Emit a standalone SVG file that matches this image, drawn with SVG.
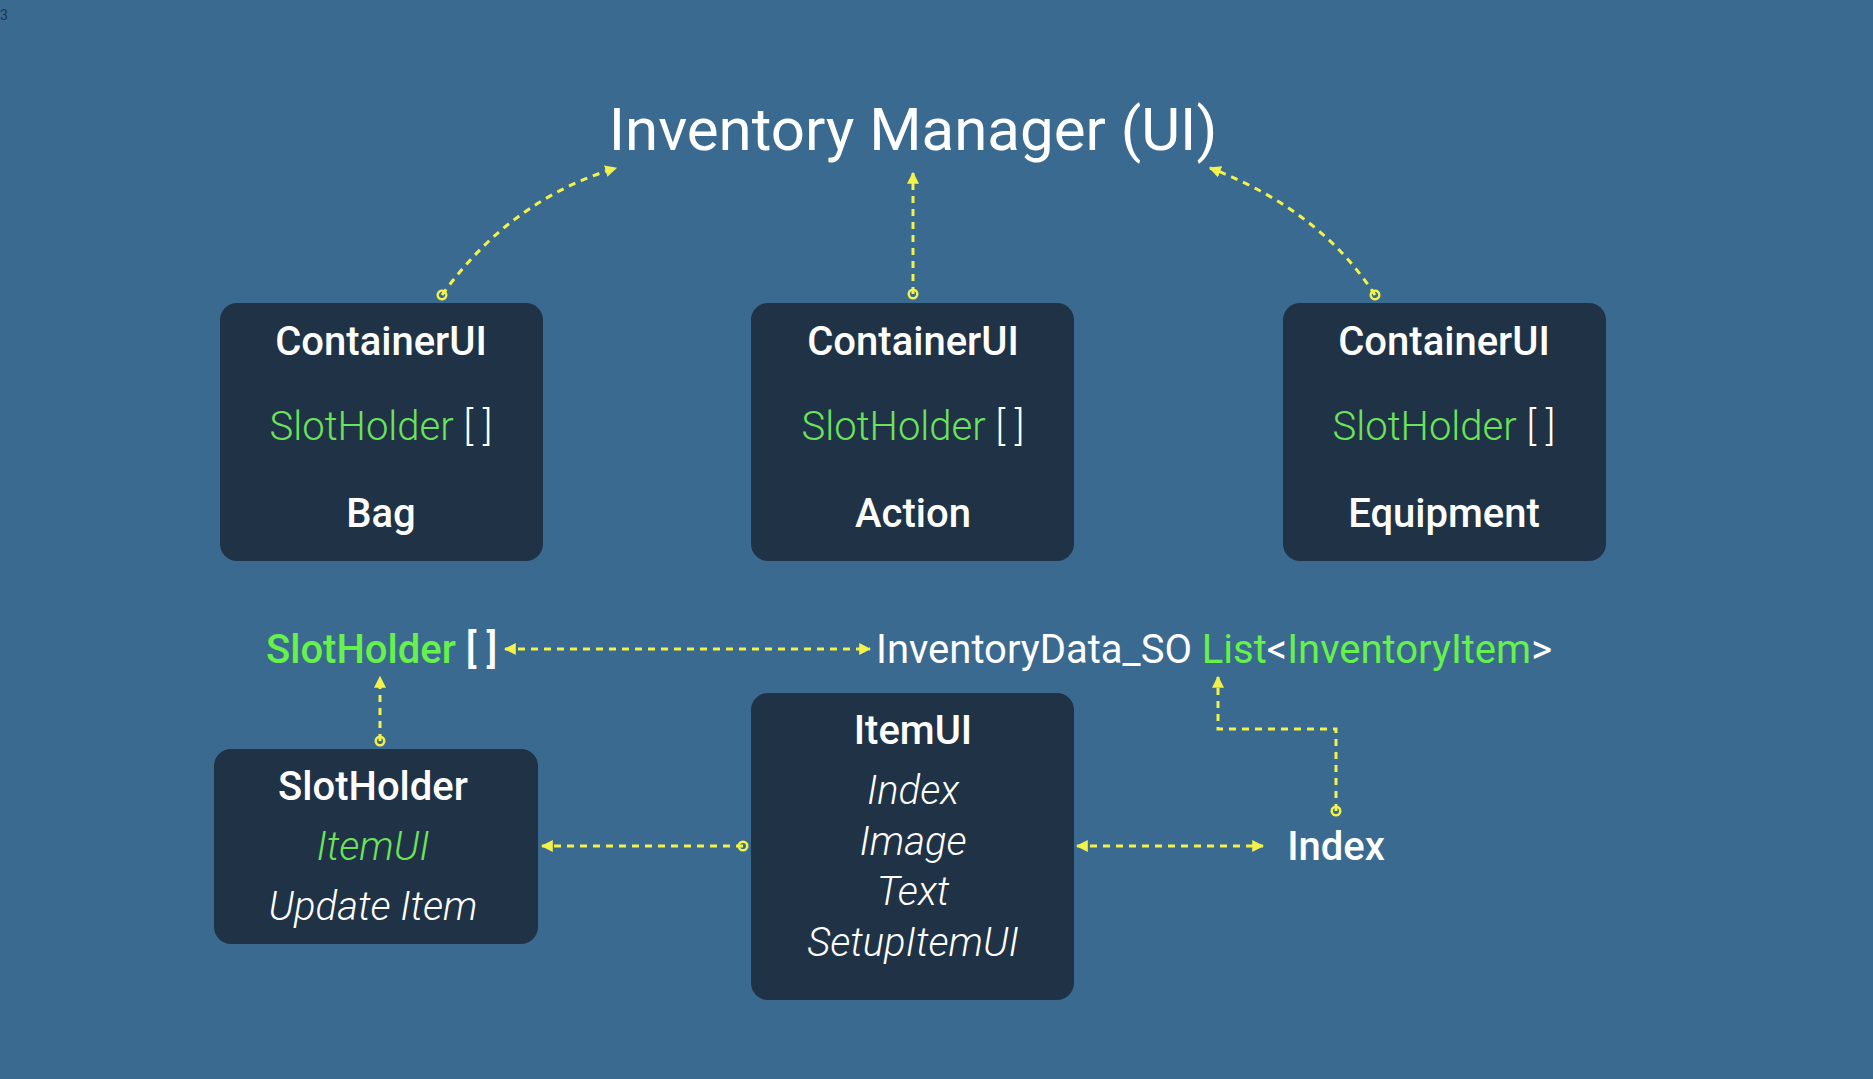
<svg xmlns="http://www.w3.org/2000/svg" width="1873" height="1079" viewBox="0 0 1873 1079">
<defs>
<marker id="arr" viewBox="0 0 10 10" refX="9" refY="5" markerWidth="4" markerHeight="4" orient="auto-start-reverse" markerUnits="strokeWidth"><path d="M0,0 L10,5 L0,10 z" fill="#f2f24a"/></marker>
<marker id="dot" viewBox="0 0 12 12" refX="6" refY="6" markerWidth="4" markerHeight="4" orient="auto" markerUnits="strokeWidth"><circle cx="6" cy="6" r="4.3" fill="none" stroke="#f2f24a" stroke-width="2.4"/></marker>
</defs>
<style>
.box{fill:#203346}
text{font-family:Roboto,"Liberation Sans",sans-serif;text-anchor:middle;fill:#fff}
.t{font-size:40px;font-weight:500}
.g{font-size:40px;font-weight:300;fill:#6be35a}
.w{font-weight:300;fill:#fff}
.i{font-size:40px;font-weight:300;font-style:italic}
.c{fill:none;stroke:#f2f24a;stroke-width:3;stroke-dasharray:7,6}
</style>
<rect width="1873" height="1079" fill="#3b6a91"/>
<text x="0" y="20" style="font-size:14px;text-anchor:start;fill:#203346">3</text>
<text x="913" y="150" style="font-size:60px;font-weight:400">Inventory Manager (UI)</text>
<g id="bag"><rect class="box" x="220" y="303" width="323" height="258" rx="17"/>
<text class="t" x="381" y="355">ContainerUI</text><text class="g" x="381" y="440">SlotHolder <tspan class="w">[ ]</tspan></text><text class="t" x="381" y="527">Bag</text></g>
<g id="action"><rect class="box" x="751" y="303" width="323" height="258" rx="17"/>
<text class="t" x="913" y="355">ContainerUI</text><text class="g" x="913" y="440">SlotHolder <tspan class="w">[ ]</tspan></text><text class="t" x="913" y="527">Action</text></g>
<g id="equipment"><rect class="box" x="1283" y="303" width="323" height="258" rx="17"/>
<text class="t" x="1444" y="355">ContainerUI</text><text class="g" x="1444" y="440">SlotHolder <tspan class="w">[ ]</tspan></text><text class="t" x="1444" y="527">Equipment</text></g>
<g id="slotarray"><text x="266" y="663" style="font-size:40px;font-weight:500;text-anchor:start;fill:#66f24a">SlotHolder <tspan fill="#fff">[ ]</tspan></text></g>
<g id="inventorydata"><text x="876" y="663" style="font-size:40px;font-weight:400;text-anchor:start">InventoryData_SO <tspan fill="#66f24a">List</tspan>&lt;<tspan fill="#66f24a">InventoryItem</tspan>&gt;</text></g>
<g id="slotholder"><rect class="box" x="214" y="749" width="324" height="195" rx="17"/>
<text class="t" x="373" y="800">SlotHolder</text><text class="i" x="373" y="860" style="fill:#6be35a">ItemUI</text><text class="i" x="373" y="920">Update Item</text></g>
<g id="itemui"><rect class="box" x="751" y="693" width="323" height="307" rx="17"/>
<text class="t" x="913" y="744">ItemUI</text><text class="i" x="913" y="804">Index</text><text class="i" x="913" y="855">Image</text><text class="i" x="913" y="905">Text</text><text class="i" x="913" y="956">SetupItemUI</text></g>
<g id="index"><text x="1336" y="860" style="font-size:40px;font-weight:500">Index</text></g>
<g id="connectors">
<path class="c" d="M442,295 Q510,200 616,168" marker-start="url(#dot)" marker-end="url(#arr)"/>
<path class="c" d="M913,294 L913,173" marker-start="url(#dot)" marker-end="url(#arr)"/>
<path class="c" d="M1375,295 Q1320,210 1210,168" marker-start="url(#dot)" marker-end="url(#arr)"/>
<path class="c" d="M505,649 L870,649" marker-start="url(#arr)" marker-end="url(#arr)"/>
<path class="c" d="M380,741 L380,677" marker-start="url(#dot)" marker-end="url(#arr)"/>
<path class="c" d="M743,846 L542,846" marker-start="url(#dot)" marker-end="url(#arr)"/>
<path class="c" d="M1077,846 L1263,846" marker-start="url(#arr)" marker-end="url(#arr)"/>
<path class="c" d="M1336,811 L1336,729 L1218,729 L1218,677" marker-start="url(#dot)" marker-end="url(#arr)"/>
</g>
</svg>
